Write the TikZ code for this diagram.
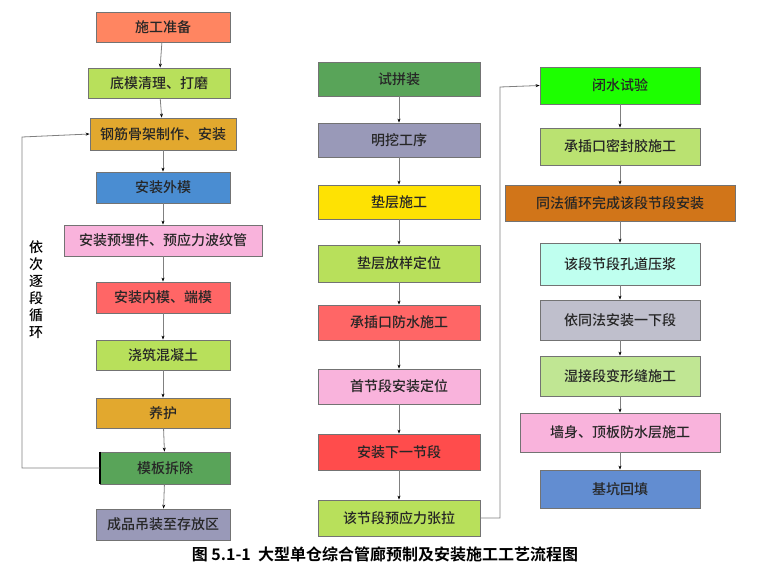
\documentclass[tikz,border=0pt]{standalone}
\usepackage{fontspec}
\setmainfont{Noto Sans CJK SC}
\newfontfamily\capfont{Noto Sans CJK SC Bold}
\newfontfamily\midfont{Noto Sans CJK SC Medium}
\usetikzlibrary{arrows.meta}
\begin{document}
\begin{tikzpicture}[x=1pt,y=-1pt,
  bx/.style={draw=black!55,line width=0.8pt,minimum height=31pt,font=\midfont\fontsize{14}{14}\selectfont,text=black!85,inner sep=0pt},
  ar/.style={draw=black!50,line width=0.8pt,-{Stealth[length=4pt,width=3pt,black]}}]
\useasboundingbox (0,0) rectangle (760,570);
\definecolor{gold}{HTML}{E2A82E}
\def\B#1#2#3#4#5#6#7{\node[bx,fill=#7,minimum width=#3-#2,minimum height=#5-#4] (#1) at ({(#2+#3)/2},{(#4+#5)/2}) {#6};}
% left
\B{a1}{96}{230}{12}{42}{施工准备}{red!50!orange!60!white!95!red}
\B{a2}{88}{230}{68}{98}{底模清理、打磨}{yellow!60!green!70}
\B{a3}{90}{236}{118}{150}{钢筋骨架制作、安装}{gold}
\B{a4}{96}{230}{172}{203}{安装外模}{cyan!55!blue!75}
\B{a5}{64}{262}{225}{256}{安装预埋件、预应力波纹管}{magenta!30}
\B{a6}{96}{230}{282}{313}{安装内模、端模}{red!60!white}
\B{a7}{96}{230}{340}{370}{浇筑混凝土}{yellow!60!green!70}
\B{a8}{96}{230}{398}{428}{养护}{gold}
\B{a9}{100}{230}{452}{484}{模板拆除}{green!45!black!65!white}
\B{a10}{96}{230}{509}{540}{成品吊装至存放区}{blue!30!black!40!white}
\foreach \i/\j in {a1/a2,a2/a3,a3/a4,a4/a5,a5/a6,a6/a7,a7/a8,a8/a9,a9/a10} \draw[ar] (\i) -- (\j);
\draw[line width=2pt] (a9.north west) -- (a9.south west);
\draw[ar] (a9.west) -| (22,137) -- (a3.west);
\node[font=\midfont\fontsize{14}{17}\selectfont,align=center,inner sep=0pt] (lp) at (36,290) {依\\次\\逐\\段\\循\\环};
% middle
\B{b1}{318}{480}{62}{96}{试拼装}{green!45!black!65!white}
\B{b2}{318}{480}{123}{157}{明挖工序}{blue!30!black!40!white}
\B{b3}{318}{480}{185}{219}{垫层施工}{yellow!85!orange}
\B{b4}{318}{480}{245}{282}{垫层放样定位}{yellow!60!green!70}
\B{b5}{318}{480}{305}{340}{承插口防水施工}{red!60!white}
\B{b6}{318}{480}{369}{404}{首节段安装定位}{magenta!30}
\B{b7}{318}{480}{434}{470}{安装下一节段}{red!70!white}
\B{b8}{318}{480}{500}{536}{该节段预应力张拉}{yellow!60!green!70}
\foreach \i/\j in {b1/b2,b2/b3,b3/b4,b4/b5,b5/b6,b6/b7,b7/b8} \draw[ar] (\i) -- (\j);
% right
\B{c1}{540}{700}{67}{104}{闭水试验}{green!85!lime}
\B{c2}{540}{700}{128}{165}{承插口密封胶施工}{yellow!55!green!60}
\B{c3}{505}{735}{185}{221}{同法循环完成该段节段安装}{orange!80!black!90}
\B{c4}{540}{700}{243}{285}{该段节段孔道压浆}{green!25!cyan!25}
\B{c5}{540}{700}{300}{340}{依同法安装一下段}{blue!20!black!25!white}
\B{c6}{540}{700}{356}{396}{湿接段变形缝施工}{yellow!45!green!45}
\B{c7}{520}{720}{413}{452}{墙身、顶板防水层施工}{magenta!30}
\B{c8}{540}{700}{470}{508}{基坑回填}{cyan!45!blue!65}
\foreach \i/\j in {c1/c2,c2/c3,c3/c4,c4/c5,c5/c6,c6/c7,c7/c8} \draw[ar] (\i) -- (\j);
\draw[ar] (b8.east) -| (500,87) -- (c1.west);
\node[font=\capfont\fontsize{16}{16}\selectfont] (cap) at (385,554) {图 5.1-1\ \ 大型单仓综合管廊预制及安装施工工艺流程图};
\end{tikzpicture}
\end{document}
